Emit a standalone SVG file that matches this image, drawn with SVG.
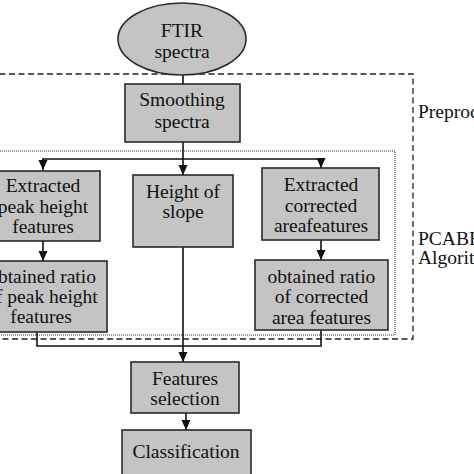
<svg xmlns="http://www.w3.org/2000/svg" width="474" height="474" viewBox="0 0 474 474">
<style>
.box{fill:#c4c4c4;stroke:#2a2a2a;stroke-width:1.6}
.t{font-family:"Liberation Serif","Times New Roman",serif;font-size:19.5px;fill:#111;text-anchor:middle}
.lbl{font-family:"Liberation Serif","Times New Roman",serif;font-size:19.5px;fill:#111}
.c{fill:none;stroke:#111;stroke-width:1.6}
.dash{fill:none;stroke:#222;stroke-width:1.3;stroke-dasharray:6 3.5}
.dot{fill:none;stroke:#333;stroke-width:1.1;stroke-dasharray:1 1}
</style>
<defs>
<marker id="ah" markerUnits="userSpaceOnUse" markerWidth="10" markerHeight="10" viewBox="0 0 10 10" refX="10" refY="5" orient="auto">
<path d="M0,0.5 L10,5 L0,9.5 Z" fill="#111"/>
</marker>
</defs>
<rect width="474" height="474" fill="#fff"/>
<g id="groups">
<rect class="dash" x="-10" y="74" width="423" height="265"/>
<rect class="dot" x="-10" y="151" width="405" height="184"/>
<text class="lbl" x="418" y="118">Preprocessing</text>
<text class="lbl" x="418" y="245">PCABE</text>
<text class="lbl" x="418" y="264">Algorithm</text>
</g>
<g id="connectors">
<line class="c" x1="183" y1="75" x2="183" y2="84"/>
<line class="c" x1="183" y1="142" x2="183" y2="175" marker-end="url(#ah)"/>
<polyline class="c" points="43,168 43,159 321,159 321,168" marker-end="url(#ah)"/>
<line class="c" x1="43" y1="159" x2="43" y2="170" marker-end="url(#ah)"/>
<line class="c" x1="43" y1="241" x2="43" y2="261" marker-end="url(#ah)"/>
<line class="c" x1="321" y1="240" x2="321" y2="260" marker-end="url(#ah)"/>
<polyline class="c" points="37,332 37,346 321,346 321,330"/>
<line class="c" x1="183" y1="247" x2="183" y2="362" marker-end="url(#ah)"/>
<line class="c" x1="186" y1="413" x2="186" y2="430" marker-end="url(#ah)"/>
</g>
<g id="ftir">
<ellipse cx="182" cy="39" rx="64" ry="36" class="box"/>
<text class="t" x="182" y="37">FTIR</text>
<text class="t" x="182" y="58">spectra</text>
</g>
<g id="smoothing">
<rect class="box" x="125" y="84" width="115" height="58"/>
<text class="t" x="182" y="106">Smoothing</text>
<text class="t" x="182" y="128">spectra</text>
</g>
<g id="peak">
<rect class="box" x="-14" y="171" width="114" height="70"/>
<text class="t" x="43" y="192">Extracted</text>
<text class="t" x="43" y="213">peak height</text>
<text class="t" x="43" y="233">features</text>
</g>
<g id="slope">
<rect class="box" x="133" y="175" width="100" height="72"/>
<text class="t" x="183" y="198">Height of</text>
<text class="t" x="183" y="218">slope</text>
</g>
<g id="area">
<rect class="box" x="262" y="168" width="117" height="72"/>
<text class="t" x="321" y="191">Extracted</text>
<text class="t" x="321" y="212">corrected</text>
<text class="t" x="321" y="232">areafeatures</text>
</g>
<g id="ratiopeak">
<rect class="box" x="-23" y="261" width="130" height="71"/>
<text class="t" x="42" y="283">obtained ratio</text>
<text class="t" x="42" y="303">of peak height</text>
<text class="t" x="41" y="323">features</text>
</g>
<g id="ratioarea">
<rect class="box" x="255" y="260" width="133" height="70"/>
<text class="t" x="321.5" y="283">obtained ratio</text>
<text class="t" x="321.5" y="303">of corrected</text>
<text class="t" x="321.5" y="324">area features</text>
</g>
<g id="selection">
<rect class="box" x="131" y="362" width="108" height="51"/>
<text class="t" x="185" y="385">Features</text>
<text class="t" x="185" y="405">selection</text>
</g>
<g id="classification">
<rect class="box" x="122" y="430" width="129" height="60"/>
<text class="t" x="186" y="458">Classification</text>
</g>
</svg>
